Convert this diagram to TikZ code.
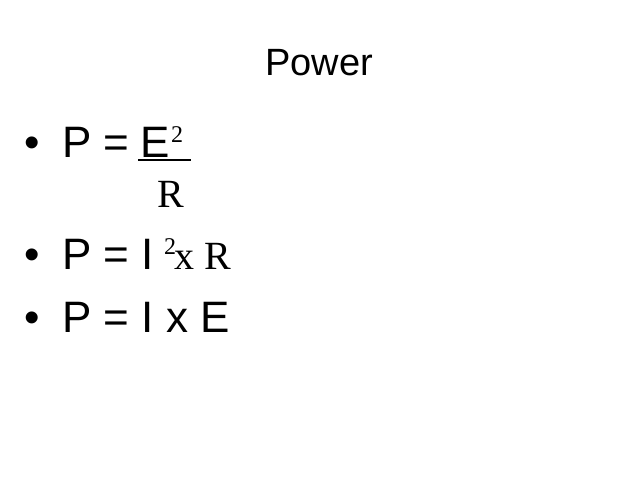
\documentclass[tikz,border=0pt]{standalone}
\usepackage{fontspec}
\setmainfont{Liberation Sans}
\newfontfamily\serif{Liberation Serif}
\begin{document}
\begin{tikzpicture}[x=1pt,y=-1pt,
  txt/.style={inner sep=0pt,anchor=base west,font=\fontsize{44}{48}\selectfont},
  sup/.style={inner sep=0pt,anchor=base west,font=\fontsize{24}{26}\serif}]
\useasboundingbox (0,0) rectangle (638,478);
\node[inner sep=0pt,anchor=base,font=\fontsize{38}{42}\selectfont] (title) at (319,76) {Power};
\node[txt] (b1) at (24,158) {\textbullet};
\node[txt] (l1) at (62,158) {P = };
\node[txt] (e1) at (140,158) {E};
\node[sup] (s1) at (171,143) {2};
\draw[line width=2.5pt] (138,160) -- (191,160);
\node[inner sep=0pt,anchor=base west,font=\fontsize{40}{44}\serif] (r1) at (157,208) {R};
\node[txt] (b2) at (24,270) {\textbullet};
\node[txt] (l2) at (62,270) {P = I};
\node[sup] (s2) at (164,255) {2};
\node[inner sep=0pt,anchor=base west,font=\fontsize{40}{44}\serif] (r2) at (174,270) {x R};
\node[txt] (b3) at (24,333) {\textbullet};
\node[txt] (l3) at (62,333) {P = I x E};
\end{tikzpicture}
\end{document}
